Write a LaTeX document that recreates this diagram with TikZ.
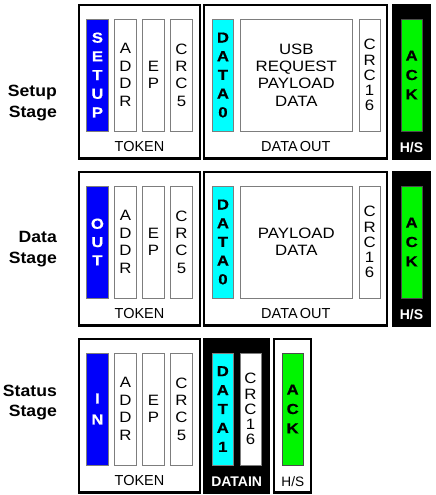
\documentclass[tikz,border=0pt]{standalone}
\usepackage{fontspec}
\setmainfont{Liberation Sans}
\newfontfamily\rfont{Liberation Sans}[FakeStretch=1.12]
\newfontfamily\bfont{Liberation Sans}[FakeStretch=1.15,FakeBold=0.6]
\newfontfamily\sfont{Liberation Sans}[FakeStretch=1.08]
\newfontfamily\tfont{Liberation Sans}[WordSpace=0.5]
\definecolor{ublue}{RGB}{0,0,250}
\definecolor{ucyan}{RGB}{0,255,255}
\definecolor{ugreen}{RGB}{0,245,0}
\definecolor{fgray}{RGB}{125,125,125}
\tikzset{
  box/.style={draw=black, line width=2.2pt, fill=white, anchor=north west, inner sep=0pt, outer sep=0pt, minimum height=153.5pt},
  blackbox/.style={box, fill=black},
  field/.style={draw=fgray, line width=0.8pt, fill=white, anchor=north west, inner sep=0pt, outer sep=0pt, minimum width=21.3pt, minimum height=112pt, align=center},
  pidfield/.style={field, fill=ublue, text=white, font={\bfont\bfseries\fontsize{14.5}{#1}\selectfont}},
  datafield/.style={field, fill=ucyan, text=black, font={\bfont\bfseries\fontsize{14.5}{#1}\selectfont}},
  ackfield/.style={field, fill=ugreen, draw=black!70, text=black, font={\bfont\bfseries\fontsize{14.5}{19.4}\selectfont}},
  regfield/.style={field, font={\rfont\fontsize{15}{#1}\selectfont}},
  lbl/.style={inner sep=0pt, font={\fontsize{14.5}{17}\selectfont}},
  doutlbl/.style={inner sep=0pt, font={\tfont\fontsize{14.5}{17}\selectfont}},
  wlbl/.style={inner sep=0pt, text=white, font={\bfseries\fontsize{14}{17}\selectfont}},
  stagelbl/.style={inner sep=0pt, anchor=east, align=right, font={\sfont\bfseries\fontsize{16.3}{20.7}\selectfont}},
}
\begin{document}
\begin{tikzpicture}[x=1pt,y=-1pt]
\useasboundingbox (0,0) rectangle (436,495);
% ---------- Setup stage ----------
\node[stagelbl] (lsetup) at (57,102.8) {Setup\\Stage};
\node[box, minimum width=121pt] (tok1) at (79,5) {};
\node[box, minimum width=183pt] (dout1) at (204.3,5) {};
\node[blackbox, minimum width=37.3pt] (hs1) at (392.7,5) {};
\node[pidfield=18.7] (pid1) at (86.8,19) {S\\E\\T\\U\\P};
\node[regfield=17.5] (addr1) at (114.8,19) {A\\D\\D\\R};
\node[regfield=17.2] (ep1) at (142.8,19) {E\\P};
\node[regfield=17.3] (crcf1) at (170.8,19) {C\\R\\C\\5};
\node[lbl] (tokl1) at (139.5,146.7) {TOKEN};
\node[datafield=18.7] (dpid1) at (212.3,19) {D\\A\\T\\A\\0};
\node[regfield=17.4, minimum width=112.7pt] (pay1) at (240,19) {USB\\REQUEST\\PAYLOAD\\DATA};
\node[regfield=15.1] (crcs1) at (359,19) {C\\R\\C\\1\\6};
\node[doutlbl] (doutl1) at (295.8,146.7) {DATA OUT};
\node[ackfield, minimum width=20.7pt] (ack1) at (401.3,19) {A\\C\\K};
\node[wlbl] (hsl1) at (411.5,147.5) {H/S};
% ---------- Data stage ----------
\node[stagelbl] (ldata) at (57,249.2) {Data\\Stage};
\node[box, minimum width=121pt] (tok2) at (79,172) {};
\node[box, minimum width=183pt] (dout2) at (204.3,172) {};
\node[blackbox, minimum width=37.3pt] (hs2) at (392.7,172) {};
\node[pidfield=18.3] (pid2) at (86.8,186) {O\\U\\T};
\node[regfield=17.5] (addr2) at (114.8,186) {A\\D\\D\\R};
\node[regfield=17.2] (ep2) at (142.8,186) {E\\P};
\node[regfield=17.3] (crcf2) at (170.8,186) {C\\R\\C\\5};
\node[lbl] (tokl2) at (139.5,314) {TOKEN};
\node[datafield=18.7] (dpid2) at (212.3,186) {D\\A\\T\\A\\0};
\node[regfield=17.4, minimum width=112.7pt] (pay2) at (240,186) {PAYLOAD\\DATA};
\node[regfield=15.1] (crcs2) at (359,186) {C\\R\\C\\1\\6};
\node[doutlbl] (doutl2) at (295.8,314) {DATA OUT};
\node[ackfield, minimum width=20.7pt] (ack2) at (401.3,186) {A\\C\\K};
\node[wlbl] (hsl2) at (411.5,314.8) {H/S};
% ---------- Status stage ----------
\node[stagelbl] (lstatus) at (57,402.5) {Status\\Stage};
\node[box, minimum width=121pt] (tok3) at (79,339) {};
\node[blackbox, minimum width=65.3pt] (din3) at (204,339) {};
\node[box, minimum width=37pt] (hs3) at (274,339) {};
\node[pidfield=21] (pid3) at (86.8,353) {I\\N};
\node[regfield=17.5] (addr3) at (114.8,353) {A\\D\\D\\R};
\node[regfield=17.2] (ep3) at (142.8,353) {E\\P};
\node[regfield=17.3] (crcf3) at (170.8,353) {C\\R\\C\\5};
\node[lbl] (tokl3) at (139.5,481) {TOKEN};
\node[datafield=18.9, minimum width=21pt] (dpid3) at (212.3,353) {D\\A\\T\\A\\1};
\node[regfield=15.1, minimum width=21pt] (crcs3) at (240,353) {C\\R\\C\\1\\6};
\node[wlbl] (dinl3) at (236.7,482) {DATAIN};
\node[ackfield, minimum width=21.3pt] (ack3) at (282,353) {A\\C\\K};
\node[lbl, font={\fontsize{13.6}{17}\selectfont}] (hsl3) at (292.8,482) {H/S};
\end{tikzpicture}
\end{document}
